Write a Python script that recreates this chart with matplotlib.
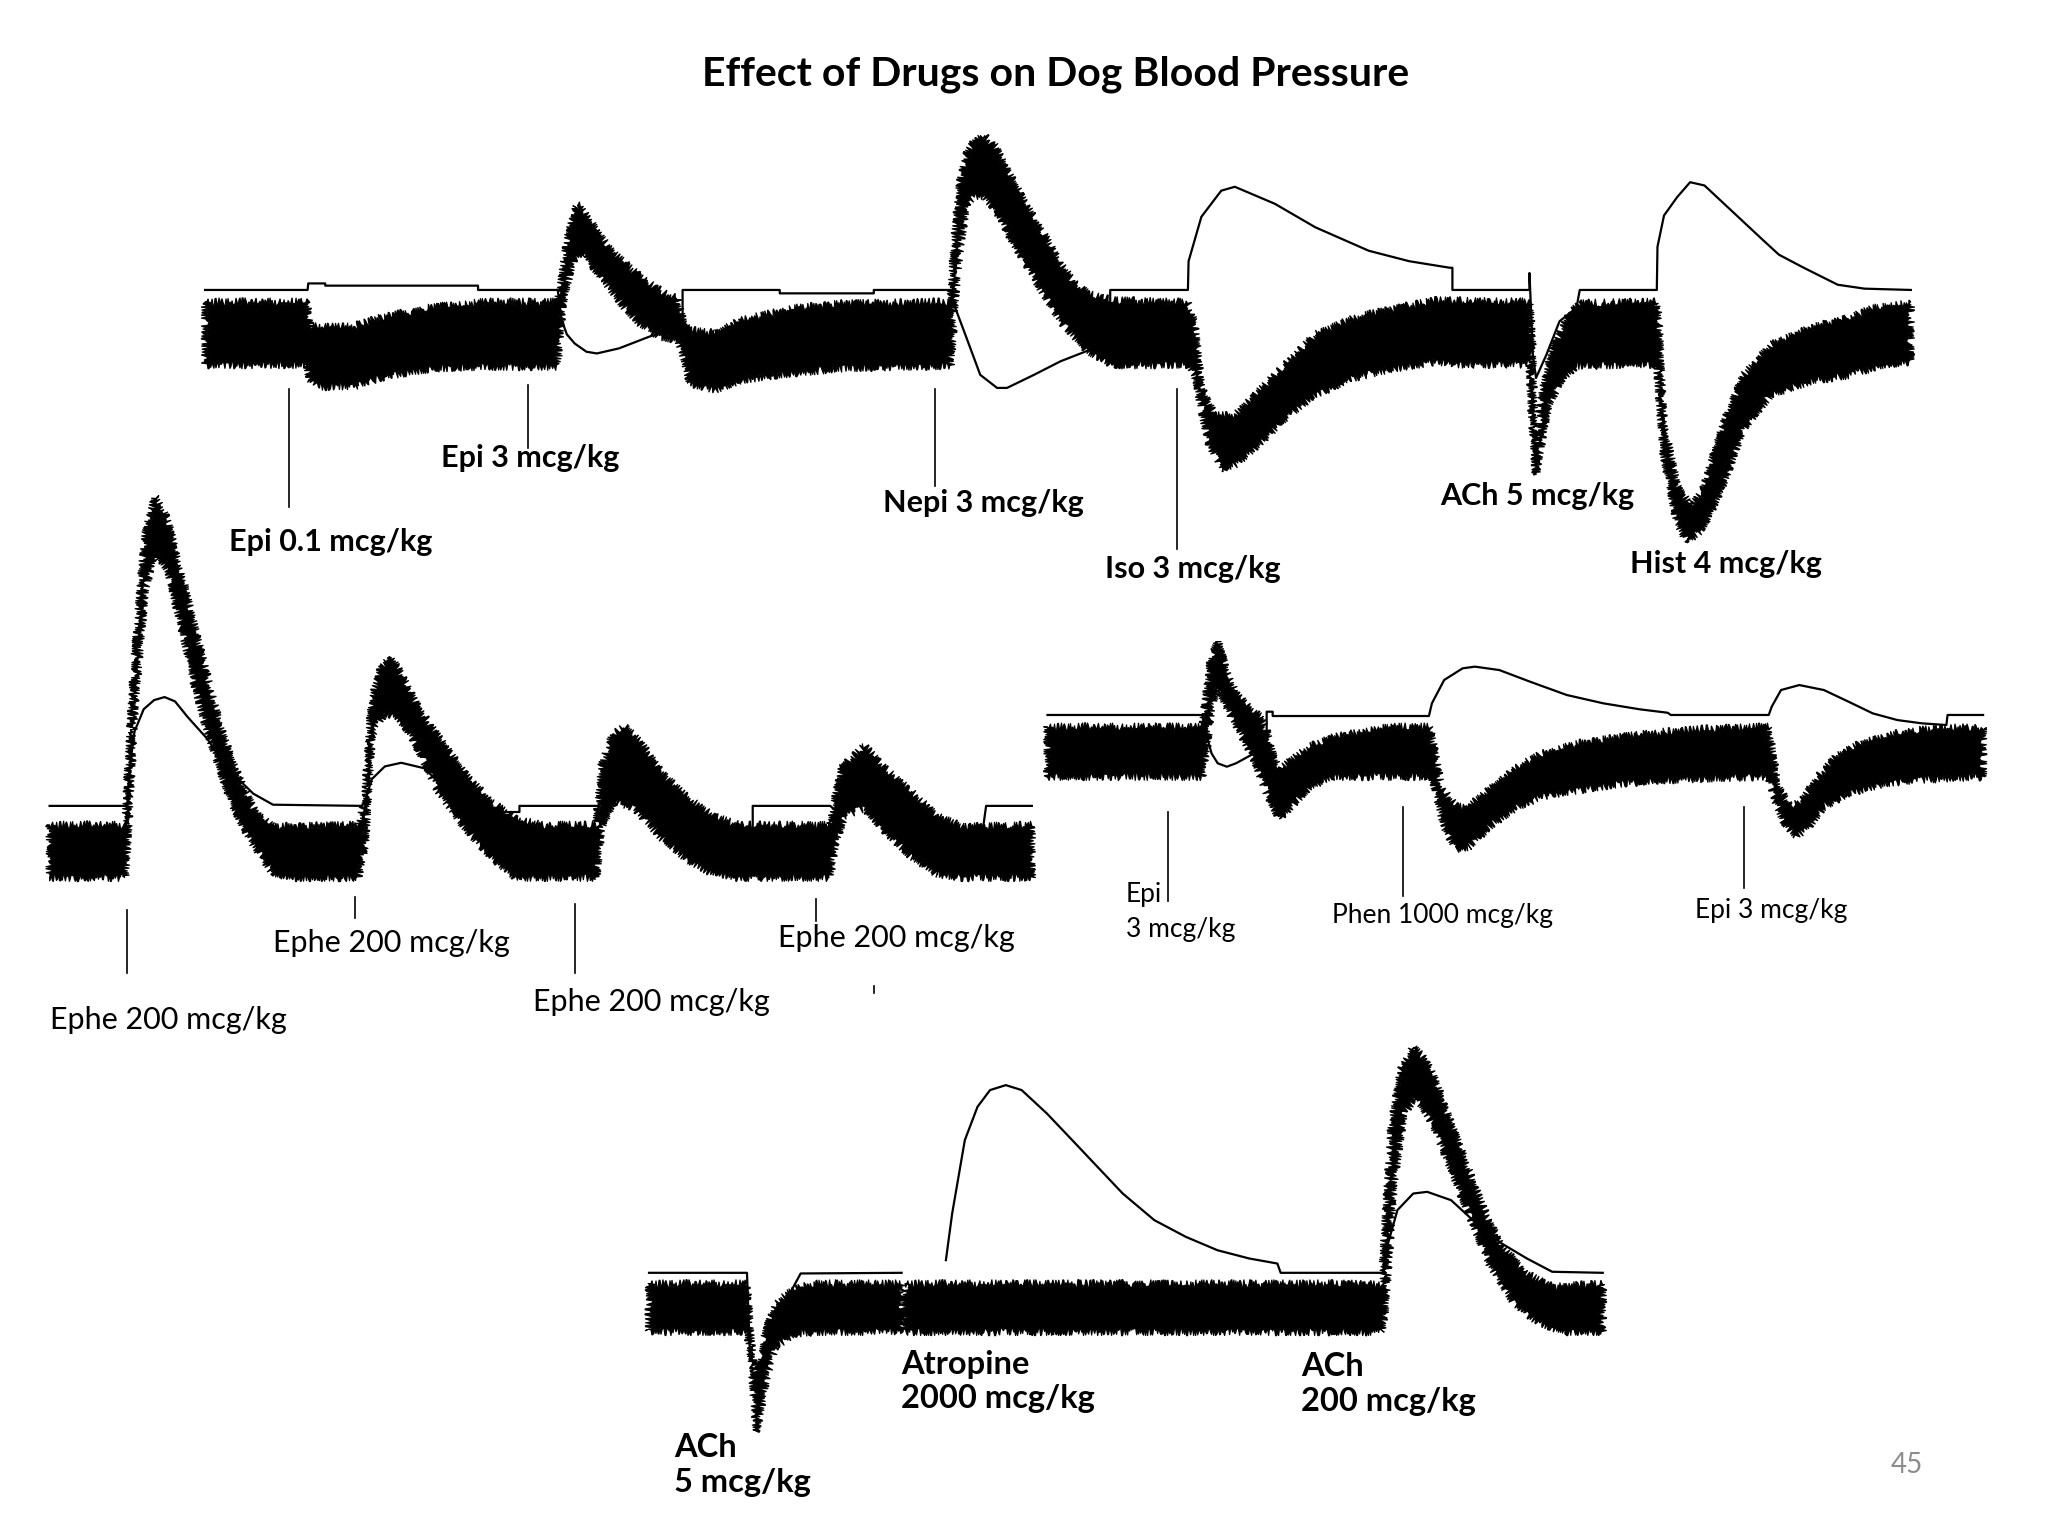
#!/usr/bin/env python3

"""Effect of drugs on dog blood pressure - kymograph style tracings.

All traces are given in chart-paper units of the original sheet
(1568 x 1176, y grows downwards)."""

import numpy as np
import matplotlib
matplotlib.use("Agg")
import matplotlib.pyplot as plt

PAPER_W, PAPER_H = 1568, 1176

#-------------------------------------------------------------------------------
# Recording 1 : Epi 0.1, Epi 3, Nepi 3, Iso 3, ACh 5, Hist 4
#-------------------------------------------------------------------------------
r1_sys_t = [157, 235, 237, 270, 294, 333, 372, 427, 429, 434.7, 440.6, 444.4,
            450.3, 458, 470, 481.6, 493, 509, 518.6, 522.6, 528.4, 547.9, 567.5,
            606.5, 645.6, 728, 731, 735, 740, 746, 753, 762, 771, 781, 791, 802,
            812, 822, 833, 853, 909.5, 914.6, 919.8, 930, 945.4, 966, 986.4,
            1007, 1037.7, 1068.5, 1099, 1171, 1173, 1175, 1176, 1178, 1181, 1186,
            1191, 1197, 1202, 1210, 1268.5, 1270, 1273.6, 1284, 1294, 1304, 1320,
            1335, 1356, 1386, 1417, 1433, 1463]
r1_sys = [231, 231, 250, 250, 242.5, 234.8, 231, 231, 219.5, 181, 158, 155.7,
          166, 178.7, 194, 204.2, 214.4, 224.6, 227.2, 245, 252.7, 255.2, 245,
          236, 232.3, 231, 180, 140, 118, 108, 103.5, 112, 130, 148, 166, 184,
          202, 215, 225, 230, 231, 246, 297, 318, 318, 297, 277,
          256, 243, 236, 230, 231, 260, 340, 355, 330, 300, 276,
          262, 250, 240, 232, 231, 246, 323, 371, 387, 374, 323,
          287, 264, 251, 243, 236, 232]
r1_dia_t = [157, 235, 237, 243, 270.6, 294, 333, 372, 427, 430.7, 438.6, 446.4,
            454.2, 466, 477.6, 489.4, 505, 518.6, 522.6, 528.4, 547.9, 567.5,
            606.5, 645.6, 728, 731, 735, 740, 746, 753, 762, 771, 791, 812, 833,
            853, 909.5, 914.6, 925, 935, 945.4, 966, 986.4, 1007, 1037.7, 1068.5,
            1099, 1114.6, 1171, 1173, 1176, 1179, 1186, 1196, 1207, 1268.5,
            1273.6, 1284, 1291.6, 1304, 1320, 1335, 1356, 1386, 1417, 1443, 1463]
r1_dia = [279.5, 279.5, 290, 296, 296, 288.4, 282, 280.8, 280.8, 234.8, 199, 194,
          204.2, 219.5, 234.8, 247.6, 257.8, 260.4, 270.6, 293.5, 298.6, 291,
          285.9, 282, 280, 230, 190, 156, 150, 150, 160, 177, 212, 246, 269,
          280, 279, 287, 338, 359, 356, 338, 318, 302, 289, 282,
          277, 279, 279, 320, 364, 345, 310, 290, 280, 279,
          348, 400, 415, 405, 369, 328, 302, 292, 287, 279, 277]
r1_rate_t = [157, 235.5, 236, 249, 249, 366, 366, 427, 430, 434, 440, 449, 457,
             474, 497, 515, 522.6, 522.6, 597, 597, 669, 669, 728, 730, 740,
             750.5, 763.4, 771, 791.6, 812, 835, 850, 850, 909.5, 910, 919.8, 935,
             945.4, 976, 1007, 1048, 1079, 1110, 1112, 1112, 1171, 1171, 1173.6,
             1176, 1184, 1194, 1207, 1209.5, 1268.5, 1269, 1274, 1284, 1294, 1305,
             1320, 1335, 1350, 1362, 1381, 1395, 1407, 1427.5, 1463]
r1_rate = [222, 222, 217, 217, 218.7, 218.7, 222, 222, 245, 256, 263, 269.3, 270.6,
           266.7, 257.8, 252, 250, 222, 222, 224.6, 224.6, 222, 222, 232, 258.7,
           287, 297, 297, 287, 276.6, 267.6, 262, 222, 222, 200, 166, 146,
           143, 156, 174, 192, 200, 205, 205, 222, 222, 209, 271.5,
           289.4, 271.5, 246, 235.6, 222, 222, 189, 165, 151, 139.5, 142,
           156, 170, 184, 195, 205, 212, 218, 221, 222]

#-------------------------------------------------------------------------------
# Recording 2 : four doses of Ephe 200 mcg/kg
#-------------------------------------------------------------------------------
r2_sys_t = [38, 96, 97.4, 103.5, 111, 118.6, 128.6, 138.7, 148.8, 158.8, 168.9,
            178.9, 194, 209, 274.5, 279.5, 284.6, 292, 299.7, 309.7, 319.8, 334.9,
            355, 375, 395, 415.4, 456.6, 460.6, 468.2, 478.2, 490.8, 505.9, 526,
            546, 566, 635.7, 639.2, 644.2, 661.8, 677, 697, 717, 737, 790]
r2_sys = [631.5, 631.5, 600, 496, 409.4, 380, 398.2, 437.3, 479.2, 518.3, 557.4,
          585.4, 618.9, 632.9, 631.5, 613, 535.1, 510, 503.5, 521, 541, 563,
          591, 613, 627, 631.5, 631.5, 585.4, 563, 556, 568.6, 591, 610.5,
          624.5, 631.5, 631.5, 613.3, 588, 571, 588, 605, 624.5, 633, 631.5]
r2_dia_t = [38, 96, 97.4, 103.5, 111, 118.6, 128.6, 138.7, 148.8, 158.8, 168.9,
            178.9, 194, 209, 224.2, 274.5, 279.5, 284.6, 294.6, 304.7, 314.8,
            334.9, 355, 375, 395, 456.6, 460.6, 470.7, 485.8, 505.9, 526, 546,
            566, 635.7, 639.2, 646.7, 661.8, 677, 697, 717, 737, 790]
r2_dia = [672, 672, 650, 535.1, 451.3, 423.4, 437.3, 479.2, 523.9, 560.2, 591,
          618.9, 646.8, 669.2, 672, 672, 646.8, 563, 546.3, 549, 563,
          605, 632.9, 655.2, 672, 672, 632.9, 613.3, 618.9, 641.2, 658, 669.2,
          672, 672, 646.8, 624.5, 618.9, 635.7, 655.2, 669.2, 672, 672]
r2_rate_t = [38, 96, 97.4, 99, 103, 110, 118, 126, 134, 143.7, 158.8, 173.9, 194,
             209, 277, 279.5, 284.6, 294.6, 307.2, 324.8, 345, 365, 385, 397.7,
             397.7, 458, 465.7, 475.7, 485.8, 498.4, 516, 546, 566, 576.3, 576.3,
             635.7, 639.2, 656.8, 664.4, 677, 697, 727, 752.4, 755, 790]
r2_rate = [617, 617, 617, 590, 560, 543, 536, 533.7, 537, 549, 565.8, 588.2, 607.7,
           616.1, 617, 613.3, 596.6, 586.8, 584, 588.2, 607.7, 619, 621.7, 621.7,
           617, 617, 610.5, 607.7, 607.2, 609.1, 624.5, 632, 634.3, 634.3, 617,
           617, 620.3, 616.1, 611.9, 616.1, 630, 635.7, 635.7, 617, 617]

#-------------------------------------------------------------------------------
# Recording 3 : Epi 3, Phen 1000, Epi 3
#-------------------------------------------------------------------------------
r3_sys_t = [802, 920.5, 922.9, 927.6, 932.3, 939.3, 946.3, 955.7, 965, 969.8,
            974.4, 979.1, 988.5, 1002.6, 1021.3, 1044.8, 1068.2, 1094, 1096.3,
            1103.4, 1115, 1124.5, 1143.2, 1162, 1180.7, 1208.9, 1241.7, 1274.5,
            1312, 1354.2, 1356.5, 1361.2, 1370.6, 1380, 1391.7, 1405.8, 1424.5,
            1452.7, 1480.8, 1518.3]
r3_sys = [556.4, 556.4, 538.5, 500.2, 490, 513, 530.9, 541, 548.7, 558.9,
          576.8, 589.6, 581.9, 571.7, 564, 558.9, 556.4, 556.4, 564,
          602.3, 617.6, 617.6, 602.3, 587, 576.8, 569.1, 564, 560.2,
          557.6, 556.4, 571.7, 602.3, 617.6, 612.5, 594.7, 579.3, 569.1,
          561.5, 557.6, 556.4]
r3_dia_t = [802, 920.5, 922.9, 927.6, 932.3, 941.6, 951, 960.4, 969.8, 979.1,
            988.5, 1002.6, 1021.3, 1094, 1096.3, 1105.7, 1115, 1124.5, 1143.2,
            1162, 1180.7, 1208.9, 1241.7, 1274.5, 1354.2, 1358.9, 1365.9, 1375.3,
            1384.7, 1396.4, 1415.2, 1443.3, 1471.4, 1518.3]
r3_dia = [594.7, 594.7, 581.9, 541, 525.7, 546.2, 564, 581.9, 607.4, 626.6,
          617.6, 602.3, 594.7, 594.7, 594.7, 633, 650.8, 648.3, 630.4,
          617.6, 610, 604.9, 599.8, 597.2, 594.7, 612.5, 630.4, 640.6,
          633, 617.6, 607.4, 599.8, 597.2, 594.7]
r3_rate_t = [802, 920.5, 922.9, 927.6, 932.3, 939.3, 946.3, 958, 965, 969.8, 969.8,
             974.4, 974.4, 1094, 1096.3, 1105.7, 1119.8, 1129.2, 1147.9, 1171.4,
             1199.5, 1227.6, 1255.7, 1276.8, 1279.2, 1354.2, 1356.5, 1363.6,
             1377.6, 1396.4, 1415.2, 1433.9, 1452.7, 1471.4, 1490.2, 1491.1, 1518.3]
r3_rate = [547.4, 547.4, 560, 576.8, 584.4, 587, 584.4, 578, 574, 571, 544.9,
           544.9, 548.2, 548.2, 538.5, 520.6, 511.7, 510.4, 513, 521.9,
           532.1, 538.5, 543.1, 545.7, 547.4, 547.4, 541, 528.3,
           524.5, 528.3, 537.2, 546.2, 551.3, 553.8, 555.1, 547.4, 547.4]

#-------------------------------------------------------------------------------
# Recording 4 : ACh 5, Atropine 2000, ACh 200 (two paper segments)
#-------------------------------------------------------------------------------
r4a_sys_t = [496.9, 571.9, 573.3, 576.7, 579.1, 581.5, 586.4, 593.6, 603.3, 613,
             627.5, 690.3]
r4a_sys = [982.7, 982.7, 1005.6, 1044, 1060, 1044, 1018.4, 998, 990.3, 985.2,
           982.7, 982.7]
r4a_dia_t = [496.9, 571.9, 574.3, 579.1, 586.4, 593.6, 608.1, 627.5, 690.3]
r4a_dia = [1019.7, 1019.7, 1031.2, 1096.3, 1056.7, 1031.2, 1021, 1019.7, 1019.7]
r4b_sys_t = [692.8, 1057.8, 1060.3, 1065.1, 1072.3, 1082, 1094.1, 1106.2, 1120.7,
             1135.2, 1149.7, 1169, 1188.4, 1227.1]
r4b_sys = [982.7, 982.7, 941.8, 865.3, 819.3, 801.5, 814.2, 847.4, 885.7,
           924, 954.6, 975, 985.2, 982.7]
r4b_dia_t = [692.8, 1057.8, 1060.3, 1067.5, 1074.8, 1084.4, 1096.5, 1111, 1125.5,
             1140, 1159.4, 1178.7, 1198.1, 1227.1]
r4b_dia = [1019.7, 1019.7, 1005.6, 903.6, 852.5, 839.7, 860.2, 895.9, 931.6,
           967.4, 998, 1013.3, 1019.7, 1019.7]
r4a_rate_t = [496.9, 571.9, 574.3, 579.1, 581.5, 584, 588.8, 603.3, 613, 690.3]
r4a_rate = [974.5, 974.5, 1041.4, 1044, 1046.5, 1040, 1018.4, 992.9, 975, 974.5]
r4b_rate_t = [724.2, 729, 738.7, 748.4, 758, 770.1, 782.2, 801.5, 820.9, 840.2,
              859.6, 883.8, 908, 932.1, 956.3, 978, 980.5, 1058.8, 1062.7,
              1069.9, 1082, 1092.7, 1111, 1130.4, 1149.7, 1169, 1188.4, 1227.1]
r4b_rate = [964.8, 929.1, 872.9, 847.4, 834.6, 830.8, 834.6, 852.5, 872.9, 893.3,
            913.8, 934.2, 947, 957.2, 963.5, 967.4, 974.5, 974.5, 952,
            926.5, 913.8, 912.5, 918.9, 936.7, 952, 963.5, 973.7, 974.5]

# Injection marks (x, top, bottom) and drug labels
marks = [(221, 298, 388), (404, 295, 343), (716, 298, 372), (901, 298, 420),
         (97, 697, 745), (272, 687, 703), (440, 692, 745), (625, 688, 705),
         (669, 755, 760), (894, 622, 690), (1074, 618, 686), (1335, 618, 680)]

labels_top = [("Epi 0.1 mcg/kg", 175, 415), ("Epi 3 mcg/kg", 338, 351),
              ("Nepi 3 mcg/kg", 676, 385), ("Iso 3 mcg/kg", 846, 436),
              ("ACh 5 mcg/kg", 1103, 380), ("Hist 4 mcg/kg", 1248, 432)]
labels_bottom = [("ACh", 516, 1108), ("5 mcg/kg", 516, 1135),
                 ("Atropine", 690, 1045), ("2000 mcg/kg", 690, 1071),
                 ("ACh", 996, 1046), ("200 mcg/kg", 996, 1073)]
labels_mid = [("Ephe 200 mcg/kg", 38, 781), ("Ephe 200 mcg/kg", 209, 722),
              ("Ephe 200 mcg/kg", 408, 767), ("Ephe 200 mcg/kg", 596, 718)]
labels_small = [("Epi", 862, 685), ("3 mcg/kg", 862, 712),
                ("Phen 1000 mcg/kg", 1020, 701), ("Epi 3 mcg/kg", 1298, 697)]


def draw_band(ax, t_up, up, t_lo, lo):
    """Fill the pulsatile pressure band between systolic and diastolic envelopes."""
    xs = np.r_[t_up, t_lo[::-1]]
    ys = np.r_[up, lo[::-1]]
    patch = ax.fill(xs, ys, color="black", lw=0.8)[0]
    # rough pen texture of the recorder
    patch.set_sketch_params(scale=4, length=1.5, randomness=3)
    return patch


#-------------------------------------------------------------------------------
# Canvas
#-------------------------------------------------------------------------------
fig = plt.figure(figsize=(20.48, 15.36), dpi=100)
ax = fig.add_axes([0, 0, 1, 1])
ax.set_xlim(0, PAPER_W)
ax.set_ylim(PAPER_H, 0)
ax.axis("off")

bands = [(r1_sys_t, r1_sys, r1_dia_t, r1_dia),
         (r2_sys_t, r2_sys, r2_dia_t, r2_dia),
         (r3_sys_t, r3_sys, r3_dia_t, r3_dia),
         (r4a_sys_t, r4a_sys, r4a_dia_t, r4a_dia),
         (r4b_sys_t, r4b_sys, r4b_dia_t, r4b_dia)]
for b in bands:
    draw_band(ax, *b)

rates = [(r1_rate_t, r1_rate), (r2_rate_t, r2_rate), (r3_rate_t, r3_rate),
         (r4a_rate_t, r4a_rate), (r4b_rate_t, r4b_rate)]
for t, r in rates:
    ax.plot(t, r, color="black", lw=1.6, solid_joinstyle="round")

for x, y0, y1 in marks:
    ax.plot([x, x], [y0, y1], color="black", lw=1.2)

for txt, x, y in labels_top:
    ax.text(x, y, txt, fontsize=22, fontweight="bold", family="Lato",
            ha="left", va="center")
for txt, x, y in labels_bottom:
    ax.text(x, y, txt, fontsize=23.5, fontweight="bold", family="Lato",
            ha="left", va="center")
for txt, x, y in labels_mid:
    ax.text(x, y, txt, fontsize=22, family="Lato", ha="left", va="center")
for txt, x, y in labels_small:
    ax.text(x, y, txt, fontsize=19, family="Lato", ha="left", va="center")

ax.text(808, 57, "Effect of Drugs on Dog Blood Pressure", fontsize=29.5,
        fontweight="bold", family="Lato", ha="center", va="center")
ax.text(1460, 1122, "45", fontsize=20, color="#8c8c8c", family="Lato",
        ha="center", va="center")

fig.savefig("out.png", dpi=100)
